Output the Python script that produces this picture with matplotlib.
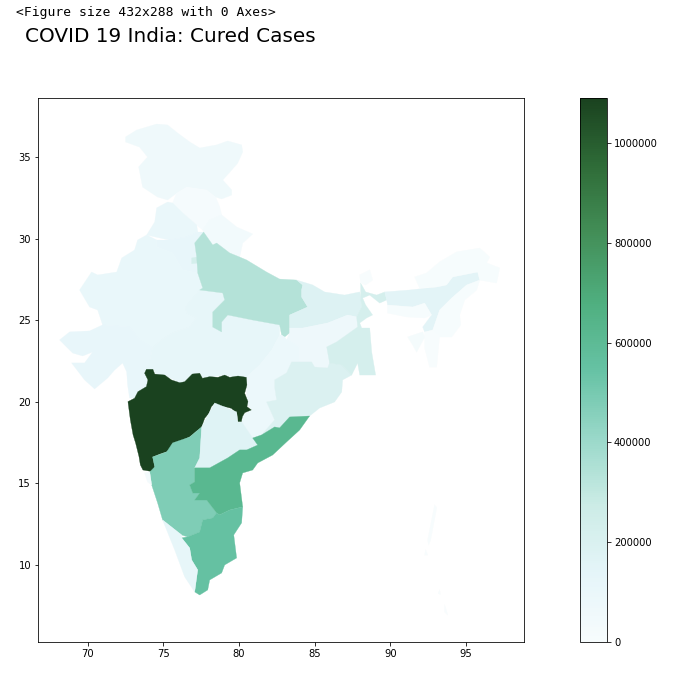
import matplotlib
matplotlib.use('Agg')
import matplotlib.pyplot as plt
from matplotlib.collections import PolyCollection
from matplotlib.colors import Normalize, LinearSegmentedColormap
from matplotlib.cm import ScalarMappable

# cured cases per state
states = ['Jammu & Kashmir', 'Himachal Pradesh', 'Uttarakhand', 'Punjab', 'Haryana', 'Delhi',
          'Rajasthan', 'Gujarat', 'Madhya Pradesh', 'Uttar Pradesh', 'Bihar', 'Jharkhand',
          'Chhattisgarh', 'Odisha', 'West Bengal', 'Sikkim', 'Assam', 'Meghalaya',
          'Arunachal Pradesh', 'Nagaland', 'Manipur', 'Mizoram', 'Tripura', 'Maharashtra',
          'Karnataka', 'Goa', 'Telangana', 'Andhra Pradesh', 'Tamil Nadu', 'Kerala',
          'Andaman 1', 'Andaman 2', 'Nicobar 1', 'Nicobar 2']
cured = [60000, 15000, 40000, 100000, 115000, 230000,
         110000, 115000, 125000, 340000, 180000, 70000,
         85000, 195000, 225000, 3000, 150000, 6000,
         9000, 7000, 12000, 2000, 25000, 1090000,
         480000, 30000, 170000, 620000, 550000, 120000,
         4000, 4000, 4000, 4000]

# outlines, lon/lat
jk = [(72.51,36.23),(73.24,36.65),(74.56,37.02),(75.28,36.96),(75.94,36.47),(76.74,35.92),(77.40,35.55),(78.52,35.74),(79.25,35.98),(80.17,35.74),(80.24,35.31),(79.91,34.63),(79.51,34.20),(78.92,33.59),(79.51,32.98),(79.51,32.67),(78.85,32.43),(78.45,32.55),(77.86,32.98),(76.54,33.16),(75.88,32.79),(75.28,32.37),(74.62,32.55),(73.63,33.16),(73.37,34.39),(73.96,35.00),(73.43,35.61),(72.51,35.92)]
hp = [(75.88,32.79),(76.54,33.16),(77.86,32.98),(78.45,32.55),(78.72,31.94),(78.85,31.45),(78.06,31.14),(77.60,30.53),(77.20,30.83),(76.27,31.57),(75.61,32.18)]
uk = [(77.60,30.53),(78.06,31.14),(78.85,31.45),(79.84,30.71),(80.90,30.28),(80.24,29.73),(80.04,28.87),(79.38,29.12),(78.52,29.73),(78.26,29.61),(77.66,30.40)]
pb = [(75.61,32.18),(76.27,31.57),(77.20,30.83),(77.27,30.40),(76.54,30.10),(75.41,29.91),(73.90,30.22),(74.43,31.02),(74.56,31.88),(75.28,32.24)]
hr = [(76.54,30.10),(77.27,30.40),(77.66,30.40),(77.07,29.73),(77.20,28.87),(77.27,27.89),(76.27,28.08),(75.61,29.12),(74.56,29.49),(74.56,29.91),(75.41,29.91)]
dl = [(76.87,28.81),(77.20,28.87),(77.27,28.50),(76.87,28.46)]
rj = [(73.90,30.22),(74.56,29.91),(74.56,29.49),(75.61,29.12),(76.27,28.08),(77.27,27.89),(77.60,26.97),(77.40,26.85),(76.47,25.81),(76.54,25.44),(77.20,25.14),(76.74,24.58),(75.61,24.22),(74.89,23.79),(74.29,23.30),(73.43,23.79),(72.77,24.58),(70.99,24.71),(70.66,25.63),(70.13,25.81),(69.47,26.85),(70.26,27.95),(70.66,27.77),(71.92,27.95),(72.25,28.81),(73.10,29.30),(73.30,29.91)]
gj = [(68.15,23.79),(68.81,24.28),(70.13,24.34),(70.99,24.71),(72.77,24.58),(73.43,23.79),(74.29,23.30),(74.10,22.44),(73.83,21.95),(73.76,21.77),(73.96,21.34),(73.90,20.91),(73.30,20.60),(73.10,20.23),(72.77,20.23),(72.64,21.03),(72.58,21.83),(72.31,22.38),(71.78,21.95),(71.32,21.46),(70.46,20.79),(69.80,21.34),(68.94,22.38),(69.80,22.38),(70.33,23.05),(69.67,22.81),(69.01,22.99),(68.48,23.48)]
mp = [(74.29,23.30),(74.89,23.79),(75.61,24.22),(76.74,24.58),(77.20,25.14),(76.54,25.44),(76.47,25.81),(77.40,26.85),(78.92,26.67),(79.05,26.24),(78.26,25.50),(78.26,24.58),(78.85,24.28),(78.85,24.89),(79.25,25.32),(80.90,25.01),(82.68,24.71),(82.68,24.09),(82.15,23.17),(81.36,22.26),(80.50,21.52),(79.58,21.52),(79.05,21.64),(77.60,21.46),(77.40,21.77),(76.87,21.64),(76.60,21.21),(76.08,21.15),(75.09,21.64),(74.56,21.64),(74.29,22.01),(73.76,21.77),(73.83,21.95),(74.10,22.44)]
up = [(77.66,30.40),(78.26,29.61),(78.52,29.73),(79.38,29.12),(80.04,28.87),(80.50,28.69),(81.82,27.95),(82.68,27.52),(83.80,27.46),(84.20,27.16),(84.13,26.85),(84.13,26.42),(84.53,25.81),(83.34,25.32),(83.34,24.22),(83.01,23.97),(82.81,24.09),(82.68,24.71),(80.90,25.01),(79.25,25.32),(78.85,24.89),(78.85,24.28),(78.26,24.58),(78.26,25.50),(79.05,26.24),(78.92,26.67),(77.40,26.85),(77.60,26.97),(77.27,27.89),(77.20,28.87),(77.07,29.73)]
br = [(83.80,27.46),(84.86,27.16),(85.65,26.73),(86.97,26.54),(87.97,26.73),(88.03,26.42),(88.10,25.81),(87.77,25.20),(87.17,25.32),(85.85,24.83),(84.20,24.52),(83.34,24.52),(83.34,25.32),(84.53,25.81),(84.13,26.42),(84.13,26.85),(84.20,27.16)]
jh = [(83.34,24.52),(84.20,24.52),(85.85,24.83),(87.17,25.32),(87.77,25.20),(87.83,24.58),(86.45,23.67),(85.79,23.36),(86.78,22.26),(85.98,22.38),(85.85,22.07),(84.99,22.13),(84.79,22.44),(84.00,22.44),(84.00,23.36),(83.14,23.79),(83.34,24.22)]
cg = [(83.01,23.97),(83.14,23.79),(84.00,23.36),(84.00,22.44),(83.47,22.44),(83.14,21.77),(82.35,21.34),(82.35,20.91),(82.48,20.11),(81.82,19.99),(82.35,18.89),(81.49,17.97),(80.90,17.78),(80.17,18.76),(80.24,19.19),(80.83,19.50),(80.57,19.80),(80.50,20.54),(80.50,21.52),(81.36,22.26),(82.15,23.17),(82.68,24.09),(82.81,24.09)]
od = [(87.44,21.64),(86.84,21.34),(86.78,20.60),(86.31,19.99),(85.32,19.62),(84.66,19.13),(83.34,19.07),(82.68,18.40),(82.35,18.46),(81.49,17.97),(82.35,18.89),(81.82,19.99),(82.48,20.11),(82.35,20.91),(82.35,21.34),(83.14,21.77),(83.47,22.44),(84.79,22.44),(84.99,22.13),(85.85,22.07),(85.98,22.38),(86.78,22.26)]
wb = [(88.03,27.28),(88.36,26.73),(89.09,26.54),(89.62,26.73),(89.75,26.24),(89.29,26.05),(88.63,26.54),(88.16,26.36),(88.36,25.93),(88.82,25.32),(88.43,25.14),(87.97,24.83),(88.10,24.52),(88.63,24.52),(88.76,23.05),(89.02,21.64),(87.97,21.64),(87.83,22.38),(87.44,21.64),(86.78,22.26),(85.98,22.38),(85.79,23.36),(86.45,23.67),(87.83,24.58),(87.77,25.20),(88.10,25.81),(88.03,26.42)]
sk = [(87.97,27.77),(88.63,28.08),(88.82,27.46),(88.36,27.16),(88.03,27.28)]
as_ = [(89.62,26.73),(91.27,26.85),(93.05,27.03),(93.71,27.16),(94.11,27.65),(95.76,27.95),(95.89,27.46),(95.03,27.16),(94.04,26.36),(93.25,25.63),(92.79,24.40),(92.26,24.28),(92.13,24.58),(92.72,25.32),(92.26,26.05),(91.47,25.81),(89.81,25.93),(89.75,26.24)]
ml = [(89.81,25.93),(91.47,25.81),(92.26,26.05),(92.72,25.32),(92.26,25.14),(91.07,25.20),(89.81,25.44)]
ar = [(91.60,27.65),(92.39,27.89),(93.25,28.57),(94.37,29.18),(95.89,29.42),(96.55,28.87),(96.35,28.51),(97.21,28.20),(97.01,27.28),(95.89,27.46),(95.76,27.95),(94.11,27.65),(93.71,27.16),(93.05,27.03),(91.93,26.97)]
nl = [(94.04,26.36),(95.03,27.16),(95.89,27.46),(95.69,26.85),(94.90,26.24),(94.57,25.32),(93.58,25.14),(93.25,25.63)]
mn = [(93.25,25.63),(93.58,25.14),(94.57,25.32),(94.64,24.71),(94.04,23.97),(92.92,23.97),(92.79,24.40)]
mz = [(92.26,24.28),(92.79,24.40),(93.25,24.09),(93.05,22.13),(92.59,22.13),(92.26,23.30)]
tr = [(91.14,23.97),(92.13,24.28),(92.26,23.97),(91.73,23.05),(91.47,23.48)]
mh = [(73.76,21.75),(73.88,21.99),(74.31,21.99),(74.43,21.70),(75.09,21.64),(75.53,21.34),(76.08,21.17),(76.41,21.23),(76.74,21.54),(76.91,21.70),(77.40,21.75),(77.58,21.44),(78.06,21.54),(78.61,21.50),(79.05,21.64),(79.38,21.50),(79.93,21.58),(80.48,21.50),(80.52,21.03),(80.37,20.52),(80.59,20.01),(80.52,19.70),(80.81,19.50),(80.37,19.33),(80.22,19.09),(80.15,18.78),(79.93,18.78),(79.86,19.30),(79.49,19.60),(79.05,19.70),(78.72,19.74),(78.39,19.91),(78.17,19.70),(78.01,19.30),(77.73,18.99),(77.53,18.46),(77.22,18.23),(76.74,17.86),(76.29,17.66),(75.63,17.46),(75.53,17.15),(75.20,16.94),(74.76,16.80),(74.29,16.62),(74.43,16.01),(74.27,15.72),(73.65,15.82),(73.48,16.13),(73.39,16.64),(73.17,17.46),(73.00,17.97),(72.82,18.89),(72.66,20.01),(73.10,20.22),(73.32,20.62),(73.88,20.93),(73.98,21.34)]
ka = [(74.29,16.62),(75.22,16.93),(75.61,17.48),(76.74,17.84),(77.53,18.46),(77.40,16.56),(77.07,15.95),(77.07,15.09),(76.74,14.90),(76.94,14.41),(77.40,14.41),(77.07,13.98),(77.86,13.98),(78.52,13.19),(78.26,12.88),(77.60,12.76),(77.40,12.02),(76.60,11.72),(76.21,11.84),(74.95,12.76),(74.62,13.80),(74.23,14.90),(74.10,15.70),(74.43,16.01)]
ga = [(73.76,15.64),(74.10,15.70),(74.23,14.90),(73.96,15.09)]
tg = [(77.53,18.46),(78.06,19.38),(78.39,19.93),(79.05,19.68),(79.84,19.38),(79.91,18.76),(80.17,18.76),(80.90,17.78),(81.23,17.35),(80.50,17.05),(80.04,17.05),(79.25,16.56),(78.06,15.95),(77.07,15.95),(77.40,16.56)]
ap = [(80.90,17.78),(81.49,17.97),(82.35,18.46),(82.68,18.40),(83.34,19.07),(84.66,19.13),(84.00,18.27),(83.14,17.54),(82.22,16.74),(81.23,16.25),(80.90,15.82),(80.24,15.64),(80.04,15.03),(80.24,13.56),(79.38,13.37),(78.72,13.07),(78.52,13.19),(77.86,13.98),(77.07,13.98),(77.40,14.41),(76.94,14.41),(76.74,14.90),(77.07,15.09),(77.07,15.95),(78.06,15.95),(79.25,16.56),(80.04,17.05),(80.50,17.05),(81.23,17.35)]
tn = [(78.52,13.19),(78.72,13.07),(79.38,13.37),(80.24,13.56),(80.17,12.58),(79.65,11.84),(79.84,10.43),(79.05,10.00),(78.85,9.51),(78.06,9.08),(77.93,8.47),(77.40,8.16),(77.07,8.35),(77.27,9.70),(76.87,10.31),(76.74,11.04),(76.21,11.66),(76.60,11.72),(77.40,12.02),(77.60,12.76),(78.26,12.88)]
kl = [(74.95,12.76),(76.21,11.84),(76.21,11.66),(76.74,11.04),(76.87,10.31),(77.27,9.70),(77.07,8.35),(76.41,9.27),(75.75,10.92)]
an1 = [(92.92,13.68),(93.05,13.50),(92.65,11.53),(92.52,11.23),(92.46,11.53)]
an2 = [(92.32,10.92),(92.46,10.61),(92.26,10.61)]
nc1 = [(93.25,8.47),(93.30,8.20),(93.15,8.25)]
nc2 = [(93.58,7.55),(93.78,6.94),(93.58,7.12)]

outlines = [jk, hp, uk, pb, hr, dl, rj, gj, mp, up, br, jh, cg, od, wb, sk, as_, ml,
            ar, nl, mn, mz, tr, mh, ka, ga, tg, ap, tn, kl, an1, an2, nc1, nc2]

vmax = 1090000
colorbar_ticks = [0, 200000, 400000, 600000, 800000, 1000000]
# BuGn at the low end, duller dark greens at the top like the original
cmap = LinearSegmentedColormap.from_list('bugn_dull', ['#f7fcfd', '#e5f5f9', '#ccece6', '#99d8c9', '#66c2a4',
                                                       '#4faf7f', '#438f58', '#2f6c38', '#1a421f'])

fig = plt.figure(figsize=(9.5, 9.39), dpi=72)
fig.text(16/684, 1 - 12/676, '<Figure size 432x288 with 0 Axes>', family='DejaVu Sans Mono',
         fontsize=13, va='center', ha='left')
fig.text(25/684, 1 - 36/676, 'COVID 19 India: Cured Cases', fontsize=20, va='center', ha='left')

ax = fig.add_axes([38/684, 1 - 642/676, 486/684, 544/676])
norm = Normalize(vmin=0, vmax=vmax)
coll = PolyCollection(outlines, array=cured, cmap=cmap, norm=norm, edgecolors='face', linewidths=0.3)
ax.add_collection(coll)
ax.set_xlim(66.72, 98.82)
ax.set_ylim(5.28, 38.62)
ax.set_xticks([70, 75, 80, 85, 90, 95])
ax.set_yticks([10, 15, 20, 25, 30, 35])
ax.tick_params(labelsize=10)

cax = fig.add_axes([580/684, 1 - 642/676, 27/684, 544/676])
cb = fig.colorbar(ScalarMappable(norm=norm, cmap=cmap), cax=cax)
cb.set_ticks(colorbar_ticks)
cb.set_ticklabels([str(t) for t in colorbar_ticks])
cb.ax.tick_params(labelsize=10)

fig.savefig('out.png', dpi=72)
